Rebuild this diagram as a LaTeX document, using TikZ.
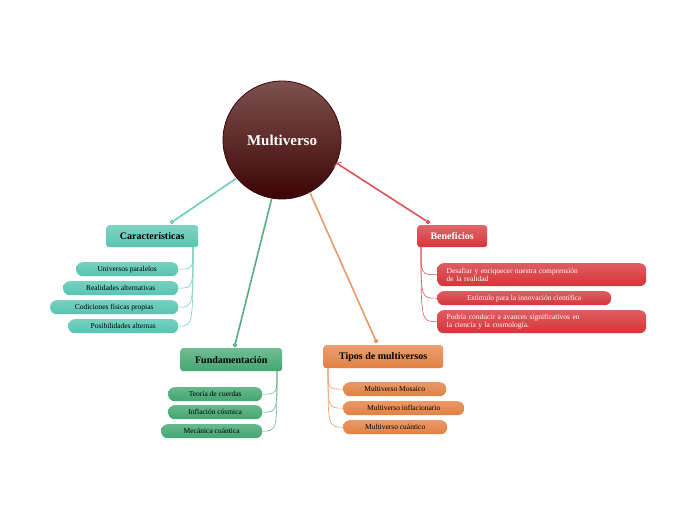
\documentclass[tikz,border=0pt]{standalone}
\usepackage{fontspec}
\setmainfont{Liberation Serif}
\definecolor{cteal}{RGB}{86,196,176}
\definecolor{cgrn}{RGB}{66,166,112}
\definecolor{corg}{RGB}{226,128,66}
\definecolor{crd}{RGB}{214,52,58}
\definecolor{cdark}{RGB}{60,5,5}
\definecolor{ctop}{RGB}{125,82,80}
\definecolor{cbot}{RGB}{60,4,4}
\begin{document}
\begin{tikzpicture}[x=1pt,y=-1pt,
 main/.style={rounded corners=3pt,top color=#1!75,bottom color=#1,draw=none,anchor=north west,inner sep=0pt,font=\fontsize{10}{12}\selectfont\bfseries},
 leaf/.style={rounded corners=6.5pt,top color=#1!80,bottom color=#1,draw=none,anchor=north west,inner sep=0pt,font=\fontsize{7.5}{8.5}\selectfont},
 mk/.style={circle,draw=#1,fill=white,line width=1pt,inner sep=1.2pt},
 conn/.style={draw=#1,line width=1.6pt},
 sub/.style={draw=#1,line width=0.6pt}]
\useasboundingbox (0,0) rectangle (697,520);
\fill[white] (0,0) rectangle (697,520);
% center
\node[circle,minimum size=118pt,inner sep=0pt,draw=cdark,line width=0.8pt,top color=ctop,bottom color=cbot,text=white,font=\fontsize{15}{16}\selectfont\bfseries] (c) at (282,140) {Multiverso};
% main boxes
\node[main=cteal,minimum width=92pt,minimum height=22pt] (car) at (106,225) {Características};
\node[main=cgrn,minimum width=102pt,minimum height=23pt] (fun) at (180,348) {Fundamentación};
\node[main=corg,minimum width=120pt,minimum height=23pt] (tip) at (323,345) {Tipos de multiversos};
\node[main=crd,minimum width=70pt,minimum height=22pt,text=white] (ben) at (417,225) {Beneficios};
% markers
\node[mk=cteal] (m1) at (172,222) {};
\node[mk=cgrn] (m2) at (235,345) {};
\node[mk=corg] (m3) at (376,341) {};
\node[mk=crd] (m4) at (428,222) {};
\draw[conn=cteal!85] (c.-140) -- (m1);
\draw[conn=cgrn!90] (c.-100) -- (m2);
\draw[conn=corg!80] (c.-62) -- (m3);
\draw[conn=crd!85] (c.-23) -- (m4);
\draw[crd!85,line width=0.8pt] (c.-23) -- ++(-3,4) (c.-23) -- ++(5,-1);
% leaves
\foreach \n/\x/\y/\t in {a/76/262/Universos paralelos,b/63/281/Realidades alternativas,cc/50/300/Codiciones físicas propias,d/68/319/Posibilidades alternas}{
 \node[leaf=cteal,minimum width={178-\x},minimum height=14pt] (\n) at (\x,\y) {\t};
 \draw[sub=cteal!80] (193,247) .. controls (193,\y+7) .. (\n.east);
}
\foreach \n/\x/\y/\t in {e/168/387/Teoría de cuerdas,f/168/405/Inflación cósmica,g/161/424/Mecánica cuántica}{
 \node[leaf=cgrn,minimum width={262-\x},minimum height=14pt] (\n) at (\x,\y) {\t};
 \draw[sub=cgrn!80] (277,371) .. controls (277,\y+7) .. (\n.east);
}
\foreach \n/\w/\y/\t in {h/103/382/Multiverso Mosaico,i/121/401/Multiverso inflacionario,j/104/420/Multiverso cuántico}{
 \node[leaf=corg,minimum width=\w,minimum height=14pt] (\n) at (343,\y) {\t};
 \draw[sub=corg!80] (328,368) .. controls (328,\y+7) .. (\n.west);
}
\node[leaf=crd,minimum width=209pt,minimum height=23pt,text=white,align=left,text width=190pt] (k) at (437,263) {Desafiar y enriquecer nuestra comprensión\\de la realidad};
\node[leaf=crd,minimum width=174pt,minimum height=14pt,text=white] (l) at (437,291) {Estimulo para la innovación científica};
\node[leaf=crd,minimum width=209pt,minimum height=23pt,text=white,align=left,text width=190pt] (m) at (437,310) {Podría conducir a avances significativos en\\la ciencia y la cosmología.};
\foreach \n in {k,l,m}{\draw[sub=crd!80] (421,247) .. controls (421,0|-\n.west) .. (\n.west);}
\end{tikzpicture}
\end{document}
